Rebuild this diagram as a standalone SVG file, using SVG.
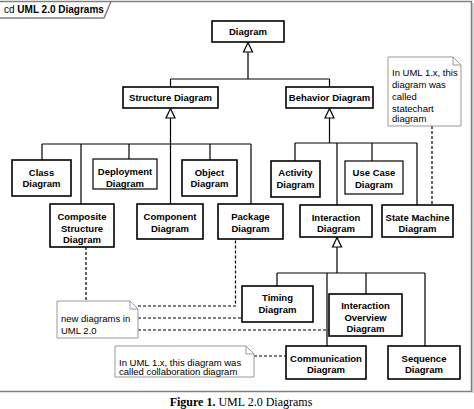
<svg xmlns="http://www.w3.org/2000/svg" width="474" height="409" viewBox="0 0 474 409">
<style>
.bg{fill:#fff}
.frame{fill:none;stroke:#808080;stroke-width:1.5}
.shadow{fill:#d9d9d9}
.title{font-family:"Liberation Sans",Arial,sans-serif;font-size:10px;fill:#000}
.n{fill:#fff;stroke:#000;stroke-width:1.6}
.nt{fill:#fff;stroke:#000;stroke-width:1.2}
.t{font-family:"Liberation Sans",Arial,sans-serif;font-size:9.5px;font-weight:bold;fill:#000;text-anchor:middle}
.note{fill:#fff;stroke:#999;stroke-width:1}
.nt2{font-family:"Liberation Sans",Arial,sans-serif;font-size:9.5px;fill:#000}
.c{fill:none;stroke:#000;stroke-width:1.2}
.d{fill:none;stroke:#000;stroke-width:1.2;stroke-dasharray:3,2}
.tri{fill:#fff;stroke:#000;stroke-width:1.2}
.cap{font-family:"Liberation Serif","Times New Roman",serif;font-size:12px;fill:#000;text-anchor:middle}
</style>
<rect class="bg" x="0" y="0" width="474" height="409"/>
<rect class="shadow" x="472" y="3" width="2" height="390"/>
<path class="frame" d="M0,1.5 H471.5 V391.5 H0"/>
<path class="frame" d="M0,18 H104 L111,1.5"/>
<text class="title" x="4" y="13">cd <tspan font-weight="bold">UML 2.0 Diagrams</tspan></text>

<g id="connectors">
  <!-- Diagram generalization -->
  <path class="c" d="M248,52 V79 M170.5,79 H329.5 M170.5,79 V87 M329.5,79 V87"/>
  <polygon class="tri" points="248,42.5 243.5,52 252.5,52"/>
  <!-- Structure -->
  <path class="c" d="M170.5,118 V144 M42,144 H251 M42,144 V160 M81,144 V204 M129,144 V159 M170.5,144 V204 M210,144 V160 M251,144 V204"/>
  <polygon class="tri" points="170.5,108.5 166,118 175,118"/>
  <!-- Behavior -->
  <path class="c" d="M329.5,118 V143 M295,143 H417 M295,143 V161 M337,143 V205 M372,143 V161 M417,143 V205"/>
  <polygon class="tri" points="329.5,108.5 325,118 334,118"/>
  <!-- Interaction -->
  <path class="c" d="M337,247 V273 M277,273 H425 M277,273 V286 M327,273 V346 M366,273 V294 M425,273 V346"/>
  <polygon class="tri" points="337,237.5 332.5,247 341.5,247"/>
  <!-- note links -->
  <path class="d" d="M432,126 V205"/>
  <path class="d" d="M86,247 V301"/>
  <path class="d" d="M138,306 H235.5 V239"/>
  <path class="d" d="M138,318 H242"/>
  <path class="d" d="M138,330 H329"/>
  <path class="d" d="M254,356 H286"/>
</g>

<g id="diagram"><rect class="n" x="212" y="21" width="72" height="21"/><text class="t" x="248" y="35">Diagram</text></g>
<g id="structure"><rect class="n" x="123" y="87" width="95" height="21"/><text class="t" x="170.5" y="101">Structure Diagram</text></g>
<g id="behavior"><rect class="n" x="286" y="87" width="87" height="21"/><text class="t" x="329.5" y="101">Behavior Diagram</text></g>

<g id="class"><rect class="n" x="12" y="160" width="59" height="36"/><text class="t" x="41.5" y="175.5">Class</text><text class="t" x="41.5" y="187">Diagram</text></g>
<g id="deployment"><rect class="nt" x="93" y="159" width="64" height="30"/><text class="t" x="125" y="175">Deployment</text><text class="t" x="125" y="186.5">Diagram</text></g>
<g id="object"><rect class="n" x="182" y="160" width="55" height="36"/><text class="t" x="209.5" y="175.5">Object</text><text class="t" x="209.5" y="187">Diagram</text></g>
<g id="composite"><rect class="n" x="50" y="204" width="64" height="43"/><text class="t" x="82" y="220">Composite</text><text class="t" x="82" y="231.5">Structure</text><text class="t" x="82" y="243">Diagram</text></g>
<g id="component"><rect class="n" x="137" y="204" width="66" height="35"/><text class="t" x="170" y="220">Component</text><text class="t" x="170" y="231.5">Diagram</text></g>
<g id="package"><rect class="n" x="218" y="204" width="65" height="35"/><text class="t" x="250.5" y="220">Package</text><text class="t" x="250.5" y="231.5">Diagram</text></g>

<g id="activity"><rect class="n" x="271" y="161" width="49" height="36"/><text class="t" x="295.5" y="176">Activity</text><text class="t" x="295.5" y="187.5">Diagram</text></g>
<g id="usecase"><rect class="nt" x="345" y="161" width="58" height="33"/><text class="t" x="374" y="176">Use Case</text><text class="t" x="374" y="187.5">Diagram</text></g>
<g id="interaction"><rect class="n" x="300" y="205" width="72" height="32"/><text class="t" x="336" y="220.5">Interaction</text><text class="t" x="336" y="232">Diagram</text></g>
<g id="statemachine"><rect class="n" x="382" y="205" width="71" height="32"/><text class="t" x="417.5" y="220.5">State Machine</text><text class="t" x="417.5" y="232">Diagram</text></g>

<g id="timing"><rect class="n" x="242" y="286" width="71" height="36"/><text class="t" x="277.5" y="301">Timing</text><text class="t" x="277.5" y="312.5">Diagram</text></g>
<g id="overview"><rect class="n" x="329" y="294" width="73" height="42"/><text class="t" x="365.5" y="309">Interaction</text><text class="t" x="365.5" y="320.5">Overview</text><text class="t" x="365.5" y="332">Diagram</text></g>
<g id="communication"><rect class="n" x="286" y="346" width="80" height="33"/><text class="t" x="326" y="361.5">Communication</text><text class="t" x="326" y="372.5">Diagram</text></g>
<g id="sequence"><rect class="n" x="388" y="346" width="72" height="33"/><text class="t" x="424" y="361.5">Sequence</text><text class="t" x="424" y="372.5">Diagram</text></g>

<g id="note-statechart">
  <path class="note" d="M388,57 H453 L461,65 V126 H388 Z M453,57 V65 H461"/>
  <text class="nt2" x="392" y="76">In UML 1.x, this</text>
  <text class="nt2" x="392" y="88">diagram was</text>
  <text class="nt2" x="392" y="100">called</text>
  <text class="nt2" x="392" y="111.5">statechart</text>
  <text class="nt2" x="392" y="122">diagram</text>
</g>
<g id="note-new">
  <path class="note" d="M57,301 H130 L138,309 V338 H57 Z M130,301 V309 H138"/>
  <text class="nt2" x="61" y="322">new diagrams in</text>
  <text class="nt2" x="61" y="334">UML 2.0</text>
</g>
<g id="note-collab">
  <path class="note" d="M115,346 H246 L254,354 V377 H115 Z M246,346 V354 H254"/>
  <text class="nt2" x="119" y="365.5">In UML 1.x, this diagram was</text>
  <text class="nt2" x="119" y="375">called collaboration diagram</text>
</g>

<text class="cap" x="241" y="406"><tspan font-weight="bold">Figure 1.</tspan> UML 2.0 Diagrams</text>
</svg>
